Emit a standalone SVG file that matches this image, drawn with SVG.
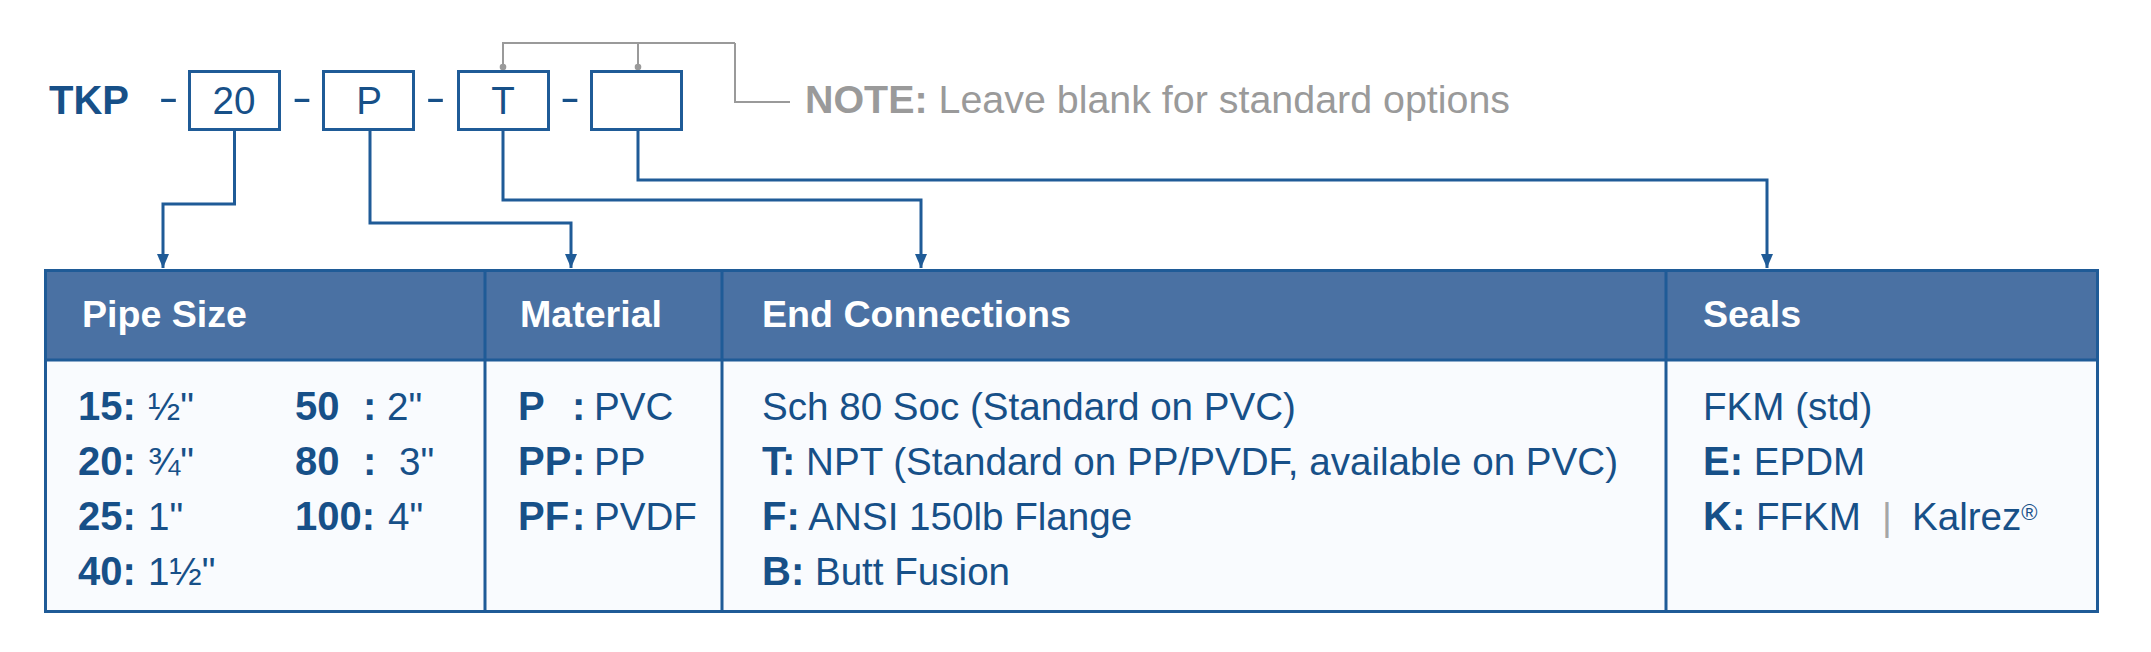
<svg xmlns="http://www.w3.org/2000/svg" width="2151" height="652" viewBox="0 0 2151 652">
<defs>
<style>
text{font-family:"Liberation Sans",Arial,Helvetica,sans-serif;}
.t{fill:#175088;font-size:38.6px;}
.b{font-weight:bold;font-size:40px;}
.hd{fill:#ffffff;font-size:37.6px;font-weight:bold;}
.box{fill:#ffffff;stroke:#1f5b97;stroke-width:3;}
.cn{fill:none;stroke:#1f5b97;stroke-width:3;marker-end:url(#arr);}
.gl{fill:none;stroke:#9a9a9a;stroke-width:2;}
.gd{fill:none;stroke:#9a9a9a;stroke-width:2;marker-end:url(#dot);}
.grid{fill:none;stroke:#1f5b97;stroke-width:3;}
.note{fill:#9a9a9a;font-size:39.4px;}
.dash{fill:#175088;font-size:40px;}
</style>
<marker id="arr" viewBox="0 0 14 12" refX="14" refY="6" markerWidth="14" markerHeight="12" markerUnits="userSpaceOnUse" orient="auto"><path d="M0,0 L14,6 L0,12 z" fill="#1f5b97"/></marker>
<marker id="dot" viewBox="0 0 8 8" refX="4" refY="4" markerWidth="8" markerHeight="8" markerUnits="userSpaceOnUse" orient="auto"><circle cx="4" cy="4" r="3.3" fill="#9a9a9a"/></marker>
</defs>
<rect width="2151" height="652" fill="#ffffff"/>

<!-- table background & grid -->
<g id="table-frame">
<rect x="45.5" y="270.5" width="2052" height="341" fill="#f9fbfe"/>
<rect x="45.5" y="270.5" width="2052" height="89.5" fill="#4a71a3"/>
<rect class="grid" x="45.5" y="270.5" width="2052" height="341"/>
<line class="grid" x1="45.5" y1="360" x2="2097.5" y2="360"/>
<line class="grid" x1="485" y1="270.5" x2="485" y2="611.5"/>
<line class="grid" x1="722" y1="270.5" x2="722" y2="611.5"/>
<line class="grid" x1="1666" y1="270.5" x2="1666" y2="611.5"/>
</g>

<!-- connectors -->
<g id="connectors">
<path class="cn" d="M234.5,130 V204 H163 V268"/>
<path class="cn" d="M370,130 V223 H571 V268"/>
<path class="cn" d="M503,130 V200 H921 V268"/>
<path class="cn" d="M638,130 V180 H1767 V268"/>
<path class="gd" d="M735,43 H503 V67"/>
<path class="gd" d="M638,43 V67"/>
<path class="gl" d="M735,43 V102 H790"/>
</g>

<!-- part-number code -->
<g id="prefix"><text class="t b" x="49" y="114">TKP</text></g>
<g id="dashes">
<text class="dash" x="168.5" y="111" text-anchor="middle" textLength="20" lengthAdjust="spacingAndGlyphs">-</text>
<text class="dash" x="302" y="111" text-anchor="middle" textLength="20" lengthAdjust="spacingAndGlyphs">-</text>
<text class="dash" x="435.5" y="111" text-anchor="middle" textLength="20" lengthAdjust="spacingAndGlyphs">-</text>
<text class="dash" x="570" y="111" text-anchor="middle" textLength="20" lengthAdjust="spacingAndGlyphs">-</text>
</g>
<g id="box-size"><rect class="box" x="189.5" y="71.5" width="90" height="58"/><text class="t" x="234" y="114" text-anchor="middle">20</text></g>
<g id="box-material"><rect class="box" x="323.5" y="71.5" width="90" height="58"/><text class="t" x="369" y="114" text-anchor="middle">P</text></g>
<g id="box-end"><rect class="box" x="458.5" y="71.5" width="90" height="58"/><text class="t" x="503" y="114" text-anchor="middle">T</text></g>
<g id="box-seal"><rect class="box" x="591.5" y="71.5" width="90" height="58"/></g>
<g id="note"><text class="note" x="805" y="113"><tspan font-weight="bold">NOTE:</tspan> Leave blank for standard options</text></g>

<!-- columns -->
<g id="col-pipe-size">
<text class="hd" x="82" y="327">Pipe Size</text>
<text class="t" y="420"><tspan class="b" x="78">15:</tspan><tspan x="148">½&quot;</tspan></text>
<text class="t" y="475"><tspan class="b" x="78">20:</tspan><tspan x="148">¾&quot;</tspan></text>
<text class="t" y="530"><tspan class="b" x="78">25:</tspan><tspan x="148">1&quot;</tspan></text>
<text class="t" y="585"><tspan class="b" x="78">40:</tspan><tspan x="148">1½&quot;</tspan></text>
<text class="t" y="420"><tspan class="b" x="295">50</tspan><tspan class="b" x="363">:</tspan><tspan x="387">2&quot;</tspan></text>
<text class="t" y="475"><tspan class="b" x="295">80</tspan><tspan class="b" x="363">:</tspan><tspan x="399">3&quot;</tspan></text>
<text class="t" y="530"><tspan class="b" x="295">100:</tspan><tspan x="388">4&quot;</tspan></text>
</g>
<g id="col-material">
<text class="hd" x="520" y="327">Material</text>
<text class="t" y="420"><tspan class="b" x="518">P</tspan><tspan class="b" x="572">:</tspan><tspan x="594">PVC</tspan></text>
<text class="t" y="475"><tspan class="b" x="518">PP</tspan><tspan class="b" x="572">:</tspan><tspan x="594">PP</tspan></text>
<text class="t" y="530"><tspan class="b" x="518">PF</tspan><tspan class="b" x="572">:</tspan><tspan x="594">PVDF</tspan></text>
</g>
<g id="col-end-connections">
<text class="hd" x="762" y="327">End Connections</text>
<text class="t" x="762" y="420">Sch 80 Soc (Standard on PVC)</text>
<text class="t" x="762" y="475"><tspan class="b">T:</tspan> NPT (Standard on PP/PVDF, available on PVC)</text>
<text class="t" x="762" y="530"><tspan class="b">F:</tspan> ANSI 150lb Flange</text>
<text class="t" x="762" y="585"><tspan class="b">B:</tspan> Butt Fusion</text>
</g>
<g id="col-seals">
<text class="hd" x="1703" y="327">Seals</text>
<text class="t" x="1703" y="420">FKM (std)</text>
<text class="t" x="1703" y="475"><tspan class="b">E:</tspan> EPDM</text>
<text class="t" x="1703" y="530"><tspan class="b">K:</tspan> FFKM</text>
<text x="1887" y="530" text-anchor="middle" fill="#a6a6a6" font-size="38">|</text>
<text class="t" x="1912" y="530">Kalrez<tspan font-size="22" dy="-10">®</tspan></text>
</g>
</svg>
